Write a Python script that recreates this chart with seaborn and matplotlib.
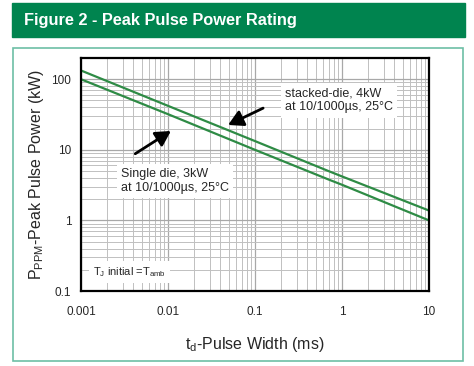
import pandas as pd
import matplotlib.pyplot as plt
import seaborn as sns
from matplotlib.patches import Rectangle

# valores
pulse_width = [0.001, 0.01, 0.1, 0.7, 1, 10]
single_die = [100, 32, 10, 3.8, 3.2, 1.0]
stacked_die = [133, 42, 13.3, 5.0, 4.2, 1.38]

x_ticks = [0.001, 0.01, 0.1, 1, 10]
x_labels = ["0.001", "0.01", "0.1", "1", "10"]
y_ticks = [0.1, 1, 10, 100]
y_labels = ["0.1", "1", "10", "100"]

df = pd.DataFrame({
    "td": pulse_width * 2,
    "P": single_die + stacked_die,
    "serie": ["single"] * len(pulse_width) + ["stacked"] * len(pulse_width),
})

sns.set_style("white")
plt.rcParams["font.family"] = ["Liberation Sans", "DejaVu Sans"]

fig = plt.figure(figsize=(4.74, 3.66), dpi=100)

# banda verde del titulo y marco
fig.patches.append(Rectangle((12 / 474, 1 - 37 / 366), 453 / 474, 34 / 366,
                             transform=fig.transFigure, color="#00844f", zorder=0))
fig.patches.append(Rectangle((13 / 474, 1 - 361 / 366), 450 / 474, 313 / 366,
                             transform=fig.transFigure, fill=False,
                             edgecolor="#6dbfa5", linewidth=1.2, zorder=0))
fig.text(24 / 474, 1 - 20 / 366, "Figure 2 - Peak Pulse Power Rating", color="white",
         fontsize=11.8, fontweight="bold", va="center", ha="left")

ax = fig.add_axes([81 / 474, 1 - 291 / 366, 348 / 474, 233 / 366])
sns.lineplot(data=df, x="td", y="P", hue="serie", palette=["#2e8b45", "#2e8b45"],
             legend=False, linewidth=1.6, ax=ax)
ax.set_xscale("log")
ax.set_yscale("log")
ax.set_xlim(0.001, 10)
ax.set_ylim(0.1, 200)
ax.set_xticks(x_ticks, x_labels)
ax.set_yticks(y_ticks, y_labels)
ax.grid(True, which="major", color="#a8a8a8", linewidth=0.9)
ax.grid(True, which="minor", color="#c0c0c0", linewidth=0.7)
ax.tick_params(axis="x", which="major", labelsize=8.5, length=0, pad=11)
ax.tick_params(axis="y", which="major", labelsize=8.5, length=0, pad=7)
ax.tick_params(axis="both", which="minor", length=0)
for s in ax.spines.values():
    s.set_color("black")
    s.set_linewidth(1.6)

ax.set_xlabel("t$_\\mathregular{d}$-Pulse Width (ms)", fontsize=11.5, labelpad=12)
ax.set_ylabel("P$_\\mathregular{PPM}$-Peak Pulse Power (kW)", fontsize=11.5, labelpad=4)

box = dict(facecolor="white", edgecolor="none", pad=3)
flecha = dict(arrowstyle="-|>,head_length=0.9,head_width=0.5", color="black", lw=2,
              shrinkA=0, shrinkB=0)
ax.text(0.22, 50, "stacked-die, 4kW\nat 10/1000µs, 25°C", fontsize=9,
        ha="left", va="center", bbox=box)
ax.annotate("", xy=(0.049, 22.5), xytext=(0.124, 39), arrowprops=flecha)
ax.text(0.0029, 3.66, "Single die, 3kW\nat 10/1000µs, 25°C", fontsize=9,
        ha="left", va="center", bbox=box)
ax.annotate("", xy=(0.0108, 18.5), xytext=(0.0042, 8.8), arrowprops=flecha)
ax.text(0.00137, 0.186, "T$_\\mathregular{J}$ initial =T$_\\mathregular{amb}$", fontsize=8,
        ha="left", va="center", bbox=box)

fig.savefig("out.png", dpi=100)
